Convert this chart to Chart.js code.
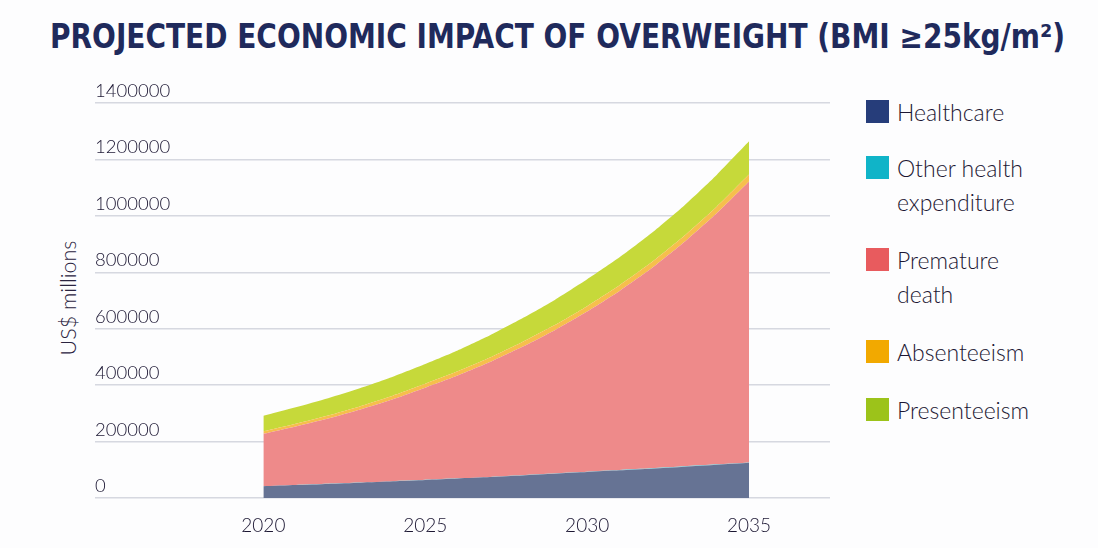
<!DOCTYPE html>
<html>
<head>
<meta charset="utf-8">
<script src="https://cdn.jsdelivr.net/npm/chart.js@4"></script>
<style>
  html, body { margin: 0; padding: 0; background: #fdfdfe; }
  #wrap { position: relative; width: 1098px; height: 548px; overflow: hidden; font-family: Lato, "Open Sans", sans-serif; }
  #title { position: absolute; left: 50px; top: 17px; white-space: nowrap; transform-origin: 0 0;
    font-family: "Liberation Sans Narrow", "DejaVu Sans Condensed", sans-serif; font-weight: bold; font-size: 33px; color: #1f2a5c; }
  #ytitle { position: absolute; left: 68px; top: 298px; transform: translate(-50%, -50%) rotate(-90deg);
    white-space: nowrap; font-size: 21.5px; font-weight: 300; color: #2a2340; }
  .lg { position: absolute; left: 866px; }
  .lg .box { position: absolute; left: 0; top: 0; width: 23px; height: 23px; }
  .lg .txt { position: absolute; left: 31px; top: -5px; font-size: 23px; font-weight: 300; line-height: 34px; color: #1c1733; white-space: nowrap; }
  canvas { position: absolute; left: 0; top: 0; }
</style>
</head>
<body>
<div id="wrap">
  <div id="title">PROJECTED ECONOMIC IMPACT OF OVERWEIGHT (BMI ≥25kg/m²)</div>
  <div id="ytitle">US$ millions</div>
  <div id="legend"></div>
  <canvas id="myChart" width="1098" height="548"></canvas>
</div>
<script>
// values in US$ millions
var years = [2020, 2021, 2022, 2023, 2024, 2025, 2026, 2027, 2028, 2029, 2030, 2031, 2032, 2033, 2034, 2035];
var healthcare = [42000, 46000, 50000, 54000, 59000, 64000, 69000, 74000, 80000, 86000, 92000, 98000, 104000, 111000, 118000, 125000];
var otherHealth = [500, 500, 600, 600, 700, 700, 800, 800, 900, 900, 1000, 1000, 1100, 1100, 1200, 1200];
var prematureDeath = [185000, 207000, 231000, 259000, 290000, 326000, 364000, 407000, 455000, 508000, 568000, 635000, 710000, 795000, 890000, 996000];
var absenteeism = [9000, 10000, 11000, 12000, 13000, 14000, 15000, 16000, 17000, 18000, 19000, 20000, 21000, 22000, 23000, 24000];
var presenteeism = [55000, 58000, 61000, 64000, 67000, 70000, 74000, 79000, 84000, 89000, 95000, 99000, 104000, 108000, 113000, 118000];
var tickYears = [2020, 2025, 2030, 2035];
var seriesNames = ['Healthcare', 'Other health\nexpenditure', 'Premature\ndeath', 'Absenteeism', 'Presenteeism'];
var legendColors = ['#263d7a', '#10b4c8', '#e85b5e', '#f2a900', '#9cc31a'];
var fillColors = ['#667394', '#58c8d6', '#ee8a8a', '#f6bf4c', '#c6d93a'];
var legendTops = [100, 156, 248, 340, 398];

// title width fit
var t = document.getElementById('title');
t.style.transform = 'scaleX(' + (1015 / t.offsetWidth) + ')';

// legend
var lg = document.getElementById('legend');
seriesNames.forEach(function (name, i) {
    var d = document.createElement('div');
    d.className = 'lg';
    d.style.top = legendTops[i] + 'px';
    d.innerHTML = '<div class="box" style="background:' + legendColors[i] + '"></div><div class="txt">' + name.replace('\n', '<br>') + '</div>';
    lg.appendChild(d);
});

function pts(vals) {
    return years.map(function (y, i) { return { x: y, y: vals[i] }; });
}

var allSeries = [healthcare, otherHealth, prematureDeath, absenteeism, presenteeism];
var ctx = document.getElementById('myChart').getContext('2d');

var myChart = new Chart(ctx, {
    type: 'line',
    data: {
        datasets: allSeries.map(function (vals, i) {
            return {
                label: seriesNames[i],
                data: pts(vals),
                backgroundColor: fillColors[i],
                borderWidth: 0,
                pointRadius: 0,
                tension: 0.2,
                fill: i === 0 ? 'origin' : '-1'
            };
        })
    },
    options: {
        responsive: false,
        maintainAspectRatio: false,
        animation: false,
        layout: { padding: { left: 95, right: 268, top: 103, bottom: 0 } },
        plugins: { legend: { display: false }, tooltip: { enabled: false } },
        scales: {
            x: {
                type: 'linear',
                min: 2014.8,
                max: 2037.5,
                grid: { display: false },
                border: { display: false },
                afterBuildTicks: function (s) { s.ticks = tickYears.map(function (v) { return { value: v }; }); },
                afterFit: function (s) { s.height = 50; },
                ticks: {
                    padding: 8,
                    color: '#1c1733',
                    font: { family: 'Lato', size: 19, weight: '300' },
                    callback: function (v) { return String(v); }
                }
            },
            y: {
                stacked: true,
                min: 0,
                max: 1400000,
                border: { display: false },
                grid: { color: '#d6d8e0', lineWidth: 1.5, drawTicks: false },
                afterFit: function (s) { s.width = 0; },
                ticks: {
                    stepSize: 200000,
                    mirror: true,
                    padding: 0,
                    labelOffset: -12,
                    color: '#1c1733',
                    font: { family: 'Lato', size: 18.5, weight: '300' },
                    callback: function (v) { return String(v); }
                }
            }
        }
    }
});
</script>
</body>
</html>
